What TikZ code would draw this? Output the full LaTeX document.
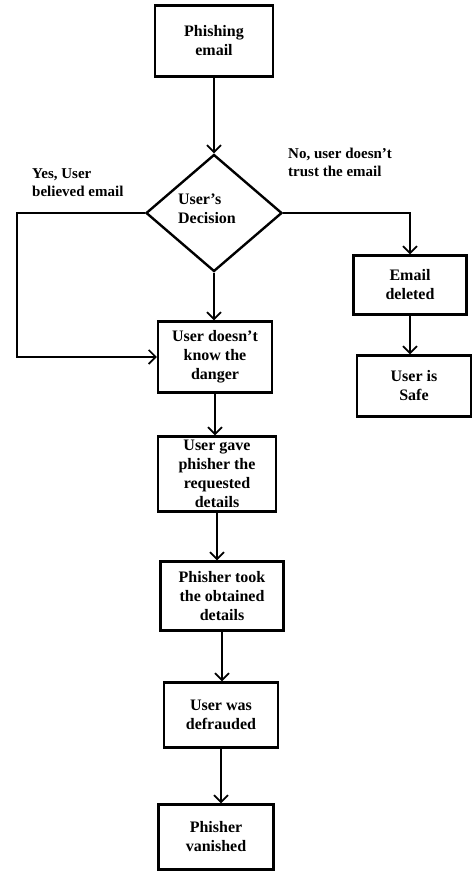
\documentclass[tikz,border=0pt]{standalone}
\usepackage{fontspec}
\setmainfont{Liberation Serif}
\usepackage{tikz}
\usetikzlibrary{arrows.meta, shapes.geometric, positioning}

\begin{document}
\begin{tikzpicture}[>={Straight Barb[length=7pt,width=14pt]},x=1pt,y=1pt,
  box/.style={draw,line width=2.2pt,align=center,inner sep=1pt,
    font=\fontsize{16}{19}\selectfont\bfseries},
  decision/.style={draw,diamond,line width=2.4pt,align=left,inner sep=0pt,
    font=\fontsize{16}{19}\selectfont\bfseries},
  flow/.style={->,line width=1.7pt},
  note/.style={align=left,inner sep=0pt,font=\fontsize{15}{18}\selectfont\bfseries}]

                        \useasboundingbox (0,0) rectangle (474,876);

                        % main column
                        \node[box,minimum width=118pt,minimum height=71pt] (email) at (214,835) {Phishing\\email};
                        \node[decision,minimum width=136pt,minimum height=117pt] (decide) at (214,663) {};
                        \node[font=\fontsize{16}{19}\selectfont\bfseries,align=left,inner sep=0pt] (decidetext) at (207,667) {User's\\Decision};
                        \node[box,minimum width=114pt,minimum height=71pt] (unaware) at (215,519) {User doesn't\\know the\\danger};
                        \node[box,minimum width=118pt,minimum height=75pt,inner sep=0pt] (gave) at (217,402) {User gave\\phisher the\\requested\\details};
                        \node[box,minimum width=123pt,minimum height=69pt] (took) at (222,280) {Phisher took\\the obtained\\details};
                        \node[box,minimum width=114pt,minimum height=65pt] (fraud) at (221,161) {User was\\defrauded};
                        \node[box,minimum width=115pt,minimum height=65pt] (vanish) at (216,39) {Phisher\\vanished};

                        % right column
                        \node[box,minimum width=113pt,minimum height=59pt] (deleted) at (410,591) {Email\\deleted};
                        \node[box,minimum width=114pt,minimum height=61pt] (safe) at (414,490) {User is\\Safe};

                        % branch labels
                        \node[note,anchor=north west] (yes) at (32,708) {Yes, User\\believed email};
                        \node[note,anchor=north west] (no) at (288,728) {No, user doesn't\\trust the email};

                        \coordinate (yesbend) at (17,663);

                        % \draw connectors
                        \draw[flow] (email) -- (email |- decide.north);
                        \draw[flow] (decide.south) -- (decide.south |- unaware.north);
                        \draw[flow] (decide.west) -- (yesbend) |- (unaware.west);
                        \draw[flow] (decide.east) -| (deleted.north);
                        \draw[flow] (deleted.south) -- (deleted.south |- safe.north);
                        \draw[flow] (unaware.south) -- (unaware.south |- gave.north);
                        \draw[flow] (gave.south) -- (gave.south |- took.north);
                        \draw[flow] (took.south) -- (took.south |- fraud.north);
                        \draw[flow] (fraud.south) -- (fraud.south |- vanish.north);

\end{tikzpicture}
\end{document}
